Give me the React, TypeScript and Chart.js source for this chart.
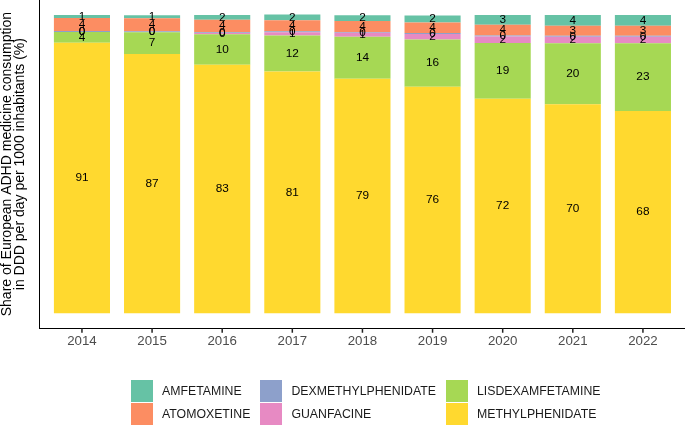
import React, { useEffect, useRef } from 'react';
import Chart from 'chart.js/auto';

// Share (%) of European ADHD medicine consumption
const years = [2014, 2015, 2016, 2017, 2018, 2019, 2020, 2021, 2022];
const methylphenidate = [90.7, 86.9, 83.3, 81.0, 78.6, 75.9, 71.9, 70.1, 67.8];
const lisdexamfetamine = [3.6, 7.3, 10.2, 12.1, 14.1, 15.9, 18.7, 20.4, 22.7];
const guanfacine = [0.0, 0.0, 0.4, 1.1, 1.3, 1.8, 2.2, 2.2, 2.2];
const dexmethylphenidate = [0.3, 0.3, 0.3, 0.3, 0.3, 0.3, 0.3, 0.3, 0.3];
const atomoxetine = [4.4, 4.4, 4.2, 3.7, 3.7, 3.6, 3.6, 3.4, 3.4];
const amfetamine = [1.0, 1.0, 1.6, 1.9, 1.9, 2.3, 3.3, 3.6, 3.6];

const yTitle = ['Share of European ADHD medicine consumption', 'in DDD per day per 1000 inhabitants (%)'];

// stacking order: first = bottom
const series = [
    { label: 'METHYLPHENIDATE', values: methylphenidate, color: '#FFD92F' },
    { label: 'LISDEXAMFETAMINE', values: lisdexamfetamine, color: '#A6D854' },
    { label: 'GUANFACINE', values: guanfacine, color: '#E78AC3' },
    { label: 'DEXMETHYLPHENIDATE', values: dexmethylphenidate, color: '#8DA0CB' },
    { label: 'ATOMOXETINE', values: atomoxetine, color: '#FC8D62' },
    { label: 'AMFETAMINE', values: amfetamine, color: '#66C2A5' },
];

// legend is filled column by column, alphabetically
const legendOrder = ['AMFETAMINE', 'ATOMOXETINE', 'DEXMETHYLPHENIDATE', 'GUANFACINE', 'LISDEXAMFETAMINE', 'METHYLPHENIDATE'];

const FONT = '"Liberation Sans", Arial, sans-serif';

const segmentLabels = {
    id: 'segmentLabels',
    afterDatasetsDraw(chart: any) {
        const { ctx } = chart;
        ctx.save();
        ctx.font = `11.8px ${FONT}`;
        ctx.fillStyle = '#000000';
        ctx.textAlign = 'center';
        ctx.textBaseline = 'middle';
        chart.data.datasets.forEach((ds: any, di: number) => {
            const meta = chart.getDatasetMeta(di);
            meta.data.forEach((bar: any, i: number) => {
                const { x, y, base } = bar.getProps(['x', 'y', 'base'], true);
                ctx.fillText(String(Math.round(ds.data[i].y)), x, (y + base) / 2);
            });
        });
        ctx.restore();
    },
};

// small tick marks under the x axis, one per year
const xTickMarks = {
    id: 'xTickMarks',
    afterDraw(chart: any) {
        const { ctx, chartArea } = chart;
        const xScale = chart.scales.x;
        ctx.save();
        ctx.strokeStyle = '#222222';
        ctx.lineWidth = 1.5;
        years.forEach((yr) => {
            const px = xScale.getPixelForValue(yr);
            ctx.beginPath();
            ctx.moveTo(px, chartArea.bottom);
            ctx.lineTo(px, chartArea.bottom + 4.5);
            ctx.stroke();
        });
        ctx.restore();
    },
};

const App: React.FC = () => {
    const chartRef = useRef<HTMLCanvasElement | null>(null);
    const chartInstance = useRef<Chart | null>(null);

    useEffect(() => {
        document.body.style.margin = '0';
        if (chartRef.current) {
            if (chartInstance.current) {
                chartInstance.current.destroy();
            }
            chartInstance.current = new Chart(chartRef.current, {
                type: 'bar',
                data: {
                    datasets: series.map((s) => ({
                        label: s.label,
                        data: years.map((yr, i) => ({ x: yr, y: s.values[i] })),
                        backgroundColor: s.color,
                        borderWidth: 0,
                        barPercentage: 0.8,
                        categoryPercentage: 1,
                    })),
                },
                plugins: [segmentLabels, xTickMarks],
                options: {
                    animation: false,
                    responsive: true,
                    maintainAspectRatio: false,
                    layout: { padding: { left: 0, right: 0, top: 0, bottom: 76.8 } },
                    plugins: {
                        legend: { display: false },
                        tooltip: { enabled: false },
                    },
                    scales: {
                        x: {
                            type: 'linear',
                            stacked: true,
                            min: 2013.4,
                            max: 2022.6,
                            offset: false,
                            ticks: {
                                stepSize: 1,
                                includeBounds: false,
                                autoSkip: false,
                                maxRotation: 0,
                                padding: 1,
                                color: '#4D4D4D',
                                font: { family: FONT, size: 13.3 },
                                callback: (v: any) => String(v),
                            },
                            grid: {
                                display: false,
                                drawTicks: true,
                                tickLength: 4,
                            },
                            border: { display: true, color: '#000000', width: 1 },
                        },
                        y: {
                            stacked: true,
                            min: -5,
                            max: 105,
                            ticks: { display: false },
                            grid: { display: false, drawTicks: false },
                            border: { display: true, color: '#000000', width: 1 },
                            title: {
                                display: true,
                                text: yTitle,
                                color: '#000000',
                                font: { family: FONT, size: 14, lineHeight: 0.96 },
                                padding: { top: 0, bottom: 13 },
                            },
                        },
                    },
                },
            });
        }
        return () => {
            if (chartInstance.current) {
                chartInstance.current.destroy();
                chartInstance.current = null;
            }
        };
    }, []);

    return (
        <div style={{ position: 'relative', width: 685, height: 427, background: '#ffffff', fontFamily: FONT }}>
            <canvas ref={chartRef}></canvas>
            <div
                style={{
                    position: 'absolute',
                    left: 131,
                    top: 380,
                    display: 'grid',
                    gridAutoFlow: 'column',
                    gridTemplateRows: '23px 23px',
                    columnGap: 10,
                }}
            >
                {legendOrder.map((name) => {
                    const s = series.find((d) => d.label === name)!;
                    return (
                        <div key={name} style={{ display: 'flex', alignItems: 'flex-start', height: 23 }}>
                            <span style={{ width: 22, height: 22, background: s.color, flex: 'none' }}></span>
                            <span style={{ marginLeft: 9, fontSize: 12.3, lineHeight: '22px', color: '#1A1A1A', whiteSpace: 'nowrap' }}>
                                {name}
                            </span>
                        </div>
                    );
                })}
            </div>
        </div>
    );
};

export default App;
